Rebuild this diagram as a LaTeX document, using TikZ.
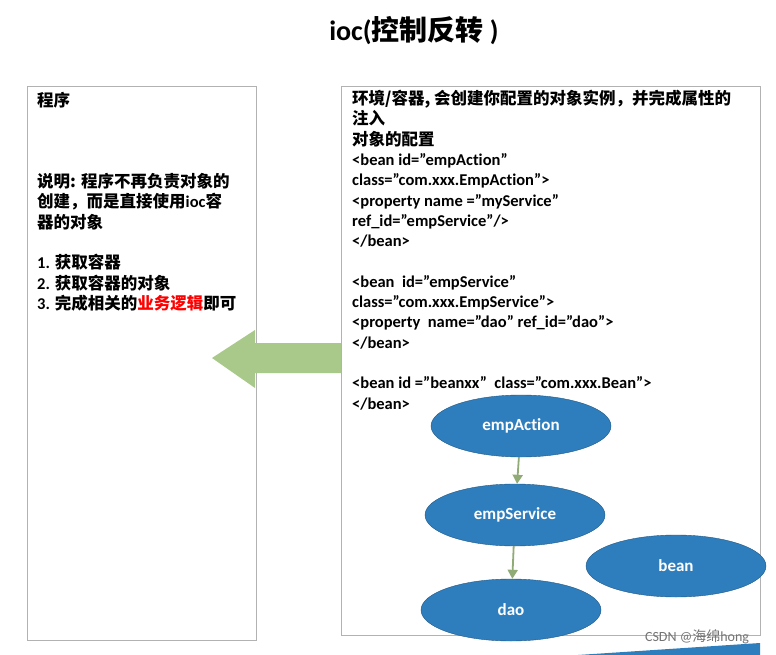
\documentclass[tikz,border=0pt]{standalone}
\usepackage{fontspec}
\setmainfont{Carlito}[Ligatures={NoCommon,NoContextual,NoRare},Contextuals=NoAlternate]
\newfontfamily\cjk{Noto Sans CJK SC}
\usetikzlibrary{shapes.geometric,arrows.meta}
\definecolor{eblue}{HTML}{2E7EBE}
\definecolor{agreen}{HTML}{A9C98A}
\newcommand\qq{\symbol{34}}
\tikzset{
  panel/.style={draw=black!30,line width=0.8pt},
  ell/.style={ellipse,draw=eblue!70!black,fill=eblue,minimum width=180pt,minimum height=62pt,text=white,font=\bfseries\fontsize{17}{20}\selectfont,inner sep=0pt},
  txt/.style={anchor=north west,align=left,inner sep=0pt,font=\bfseries\fontsize{16.5}{20.3}\selectfont},
  link/.style={draw=agreen!85!black,line width=1.8pt,-{Triangle[length=9pt,width=10pt]}}
}
\begin{document}
\begin{tikzpicture}[x=1pt,y=-1pt]
\useasboundingbox (0,0) rectangle (776,655);
\node (title) at (414,31) {\bfseries\fontsize{28}{30}\selectfont ioc({\cjk\bfseries 控制反转} )};
\draw[panel] (27,86) rectangle (256,640);
\draw[panel] (341,86) rectangle (760,635);
\node[txt] (lt) at (37,92) {{\cjk\bfseries 程序}\\[60.9pt]
{\cjk\bfseries 说明: 程序不再负责对象的}\\
{\cjk\bfseries 创建，而是直接使用}ioc{\cjk\bfseries 容}\\
{\cjk\bfseries 器的对象}\\[20.3pt]
1. {\cjk\bfseries 获取容器}\\
2. {\cjk\bfseries 获取容器的对象}\\
3. {\cjk\bfseries 完成相关的\textcolor{red}{业务逻辑}即可}};
\node[txt] (rt) at (352,90) {{\cjk\bfseries 环境/容器, 会创建你配置的对象实例，并完成属性的}\\
{\cjk\bfseries 注入}\\
{\cjk\bfseries 对象的配置}\\
<bean id=\qq empAction\qq\\
class=\qq com.xxx.EmpAction\qq>\\
<property name =\qq myService\qq\\
ref\_id=\qq empService\qq/>\\
</bean>\\[20.3pt]
<bean~ id=\qq empService\qq\\
class=\qq com.xxx.EmpService\qq>\\
<property~ name=\qq dao\qq{} ref\_id=\qq dao\qq>\\
</bean>\\[20.3pt]
<bean id =\qq beanxx\qq~ class=\qq com.xxx.Bean\qq>\\
</bean>};
\fill[agreen] (341,343) -- (255,343) -- (255,330) -- (212,358) -- (255,388) -- (255,373) -- (341,373) -- cycle;
\node[ell] (ea) at (521,426) {empAction};
\node[ell] (es) at (515,515) {empService};
\node[ell] (bean) at (676,566) {bean};
\node[ell] (dao) at (511,610) {dao};
\draw[link] (ea) -- (es);
\draw[link] (es) -- (dao);
\fill[eblue] (578,655) -- (760,643) -- (760,655) -- cycle;
\node[text=black!55,font=\fontsize{14}{16}\selectfont] (wm) at (697,637) {CSDN @{\cjk 海绵}hong};
\end{tikzpicture}
\end{document}
